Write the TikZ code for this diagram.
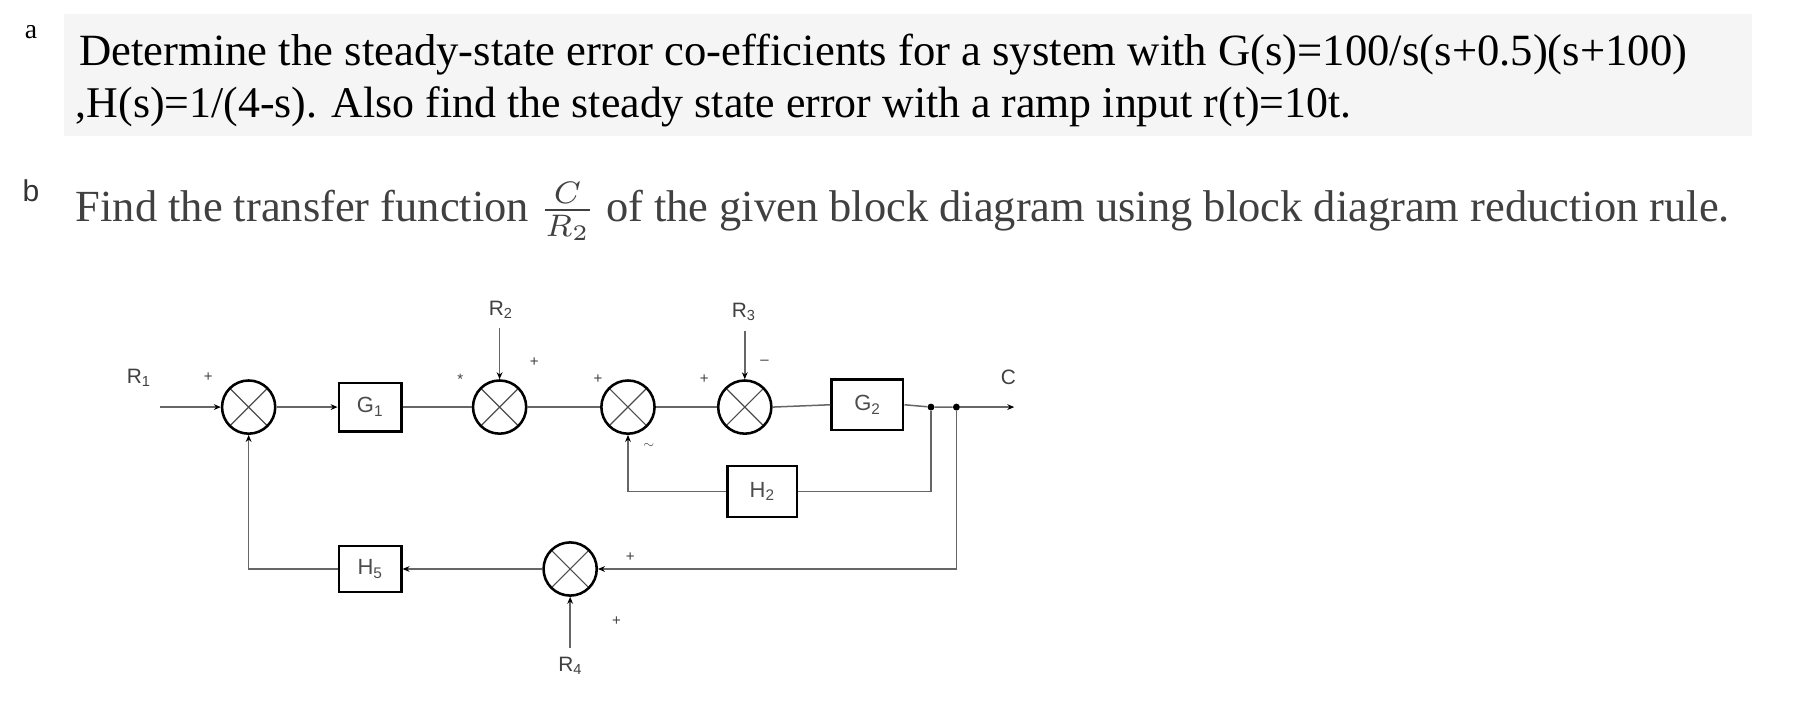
\documentclass[tikz,border=0pt]{standalone}
\usepackage{fontspec}
\setmainfont{Liberation Serif}
\setsansfont{Liberation Sans}
\usetikzlibrary{arrows.meta}
\begin{document}
\begin{tikzpicture}[x=1pt,y=-1pt,
  sumj/.style={circle,draw,line width=2.2pt,minimum size=46pt,inner sep=0pt,path picture={
    \draw[line width=1pt,black!70] (path picture bounding box.north west)--(path picture bounding box.south east)
      (path picture bounding box.north east)--(path picture bounding box.south west);}},
  blk/.style={draw,line width=2.2pt,minimum width=54pt,minimum height=42pt,inner sep=0pt,font=\sffamily\fontsize{19}{19}\selectfont,text=black!70},
  lab/.style={font=\sffamily\fontsize{18}{18}\selectfont,text=black!75},
  sg/.style={font=\sffamily\fontsize{13}{13}\selectfont,text=black!75},
  wire/.style={line width=1.3pt,black!60},
  arr/.style={wire,-{Stealth[length=6pt,width=5pt,black]}},
  dot/.style={circle,fill=black,inner sep=0pt,minimum size=6pt}]
\useasboundingbox (0,0) rectangle (1572,628);
\fill[black!4] (55,12) rectangle (1515,118);
% text
\node[anchor=west,font=\fontsize{24}{24}\selectfont] (la) at (18,28) {a};
\node[anchor=west] (t1) at (65,47) {\resizebox{1390pt}{!}{Determine the steady-state error co-efficients for a system with G(s)=100/s(s+0.5)(s+100)}};
\node[anchor=west] (t2) at (62,92) {\resizebox{1103pt}{!}{,H(s)=1/(4-s). Also find the steady state error with a ramp input r(t)=10t.}};
\node[anchor=west,font=\sffamily\fontsize{26}{26}\selectfont,text=black!80] (lb) at (16,165) {b};
\node[anchor=west,text=black!75] (t3) at (62,183) {\resizebox{1430pt}{!}{Find the transfer function $\frac{C}{R_2}$ of the given block diagram using block diagram reduction rule.}};
% diagram
\node[sumj] (s1) at (215,352) {};
\node[blk] (g1) at (320,352) {G\textsubscript{1}};
\node[sumj] (s2) at (432,352) {};
\node[sumj] (s3) at (543,352) {};
\node[sumj] (s4) at (644,352) {};
\node[blk,minimum width=62pt,minimum height=44pt] (g2) at (750,350) {G\textsubscript{2}};
\node[dot] (j1) at (805,352) {};
\node[dot] (j2) at (827,352) {};
\coordinate (out) at (877,352);
\node[blk,minimum width=60pt,minimum height=44pt] (h2) at (659,425) {H\textsubscript{2}};
\node[sumj] (s5) at (493,492) {};
\node[blk,minimum height=40pt] (h5) at (320,492) {H\textsubscript{5}};
\node[lab] (r1) at (120,327) {R\textsubscript{1}};
\node[lab] (r2) at (433,268) {R\textsubscript{2}};
\node[lab] (r3) at (643,270) {R\textsubscript{3}};
\node[lab] (r4) at (493,576) {R\textsubscript{4}};
\node[lab] (c) at (872,326) {C};
\coordinate (r1e) at (138,352);
\coordinate (r2e) at (432,284);
\coordinate (r3e) at (644,286);
\coordinate (r4e) at (493,560);
% wires
\draw[arr] (r1e) -- (s1.west);
\draw[arr] (s1.east) -- (g1.west);
\draw[wire] (g1.east) -- (s2.west);
\draw[arr] (r2e) -- (s2.north);
\draw[wire] (s2.east) -- (s3.west);
\draw[wire] (s3.east) -- (s4.west);
\draw[arr] (r3e) -- (s4.north);
\draw[wire] (s4.east) -- (g2.west);
\draw[wire] (g2.east) -- (j1) -- (j2);
\draw[arr] (j2) -- (out);
\draw[wire] (j1) |- (h2.east);
\draw[arr] (h2.west) -| (s3.south);
\draw[arr] (j2) |- (s5.east);
\draw[arr] (s5.west) -- (h5.east);
\draw[arr] (h5.west) -| (s1.south);
\draw[arr] (r4e) -- (s5.south);
% signs
\node[sg] at (180,326) {+};
\node[sg] at (398,328) {*};
\node[sg] at (462,313) {+};
\node[sg] at (517,328) {+};
\node[sg] at (561,386) {$\sim$};
\node[sg] at (609,328) {+};
\node[sg] at (661,313) {--};
\node[sg] at (545,482) {+};
\node[sg] at (533,537) {+};
\end{tikzpicture}
\end{document}
